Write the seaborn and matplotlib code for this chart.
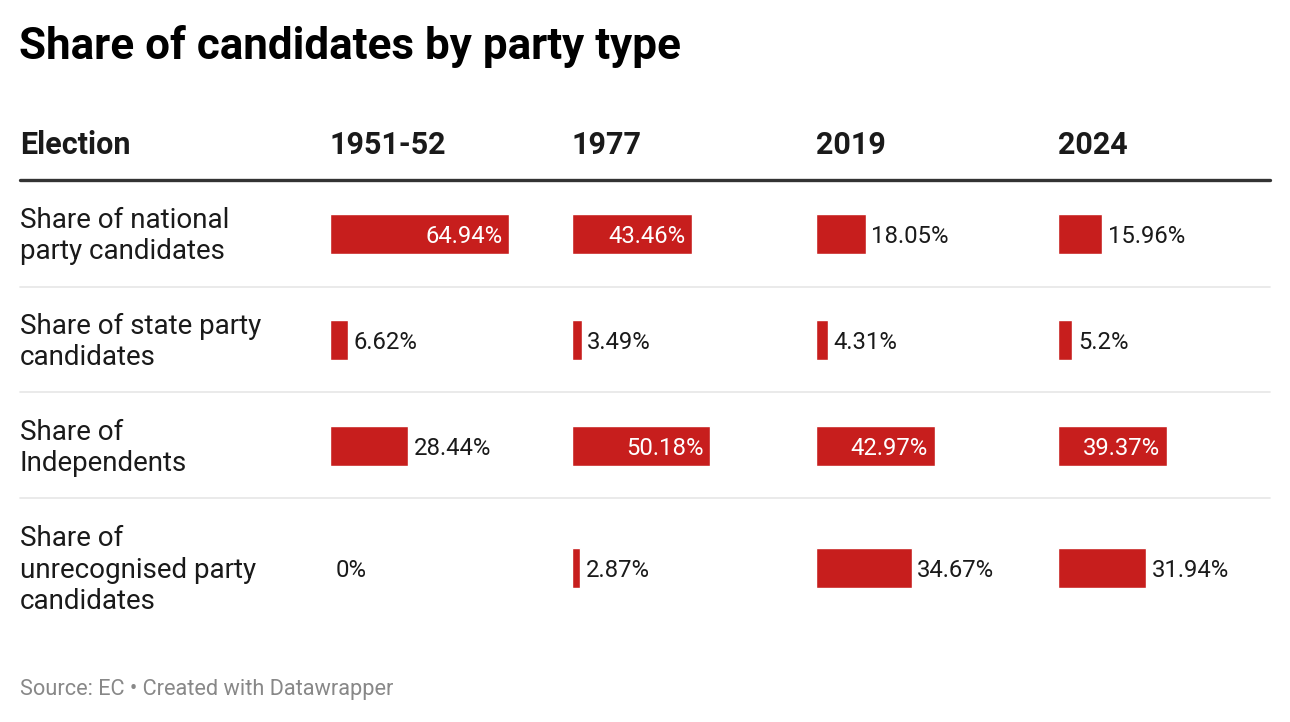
import matplotlib
matplotlib.use("Agg")
import matplotlib.pyplot as plt
from matplotlib.lines import Line2D
import pandas as pd
import seaborn as sns

elections = ["1951-52", "1977", "2019", "2024"]
row_labels = [
    "Share of national\nparty candidates",
    "Share of state party\ncandidates",
    "Share of\nIndependents",
    "Share of\nunrecognised party\ncandidates",
]
national = [64.94, 43.46, 18.05, 15.96]
state = [6.62, 3.49, 4.31, 5.2]
independents = [28.44, 50.18, 42.97, 39.37]
unrecognised = [0, 2.87, 34.67, 31.94]

rows = []
for label, vals in zip(row_labels, [national, state, independents, unrecognised]):
    for e, v in zip(elections, vals):
        rows.append({"category": label, "election": e, "share": v})
df = pd.DataFrame(rows)

sns.set_style("white")
plt.rcParams["font.family"] = ["Roboto", "DejaVu Sans"]

W, H = 1290, 722
RED = "#c71e1d"
fig = plt.figure(figsize=(W / 100, H / 100), dpi=100)


def fx(px):
    return px / W


def fy(py):
    return 1 - py / H


# layout in pixels
col_x = [330, 572, 816, 1058]
row_y = [234, 340, 446, 568]
sep_y = [287, 392, 498]
bar_h = 40
full_w = 276  # pixels for 100%

fig.text(fx(19), fy(47), "Share of candidates by party type", fontsize=31.7,
         fontweight="bold", va="center", ha="left", color="#000000")

fig.text(fx(20), fy(145), "Election", fontsize=22, fontweight="bold",
         va="center", ha="left", color="#1a1a1a")
for x, e in zip(col_x, elections):
    fig.text(fx(x), fy(145), e, fontsize=22, fontweight="bold",
             va="center", ha="left", color="#1a1a1a")

fig.add_artist(Line2D([fx(20), fx(1270)], [fy(180), fy(180)], color="#333333", lw=2.4))
for y in sep_y:
    fig.add_artist(Line2D([fx(20), fx(1270)], [fy(y), fy(y)], color="#e6e6e6", lw=1.2))

for label, yc in zip(row_labels, row_y):
    fig.text(fx(20), fy(yc + 2), label, fontsize=20, va="center", ha="left",
             color="#1a1a1a", linespacing=1.23)
    sub = df[df["category"] == label]
    for x, e in zip(col_x, elections):
        cell = sub[sub["election"] == e]
        v = float(cell["share"].iloc[0])
        ax = fig.add_axes([fx(x), fy(yc + bar_h / 2), full_w / W, bar_h / H])
        sns.barplot(data=cell, x="share", y="election", orient="h", width=1.0,
                    color=RED, saturation=1, ax=ax)
        ax.set_xlim(0, 100)
        ax.set_ylim(0.5, -0.5)
        ax.axis("off")
        txt = f"{v:g}%"
        if v >= 36:
            ax.annotate(txt, (v, 0), xytext=(-5, -1.5), textcoords="offset points",
                        ha="right", va="center", color="white", fontsize=17.2)
        else:
            ax.annotate(txt, (v, 0), xytext=(4, -1.5), textcoords="offset points",
                        ha="left", va="center", color="#1a1a1a", fontsize=17.2)

fig.text(fx(20), fy(689), "Source: EC \u2022 Created with Datawrapper", fontsize=15.7,
         va="center", ha="left", color="#888888")

fig.savefig("out.png", dpi=100)
